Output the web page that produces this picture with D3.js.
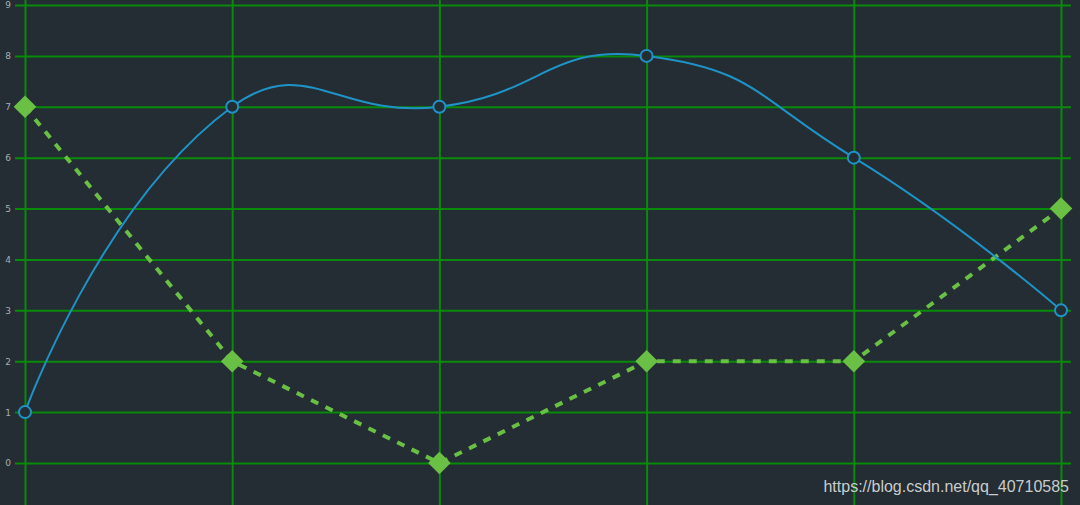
<!DOCTYPE html>
<html>
<head>
<meta charset="utf-8">
<script src="https://cdn.jsdelivr.net/npm/d3@7"></script>
<style>
  html, body { margin: 0; padding: 0; background: #232d33; overflow: hidden; }
  svg { display: block; }
</style>
</head>
<body>
<svg id="chart" width="1080" height="505"></svg>
<script>
const categories = ['A', 'B', 'C', 'D', 'E', 'F']
const lineValues = [1, 7, 7, 8, 6, 3]
const dashValues = [7, 2, 0, 2, 2, 5]
const yTicks = [0, 1, 2, 3, 4, 5, 6, 7, 8, 9]

const W = 1080, H = 505
const GRID = '#0a8a0a'
const BLUE = '#1f93c6'
const LIME = '#6abf45'
const BG = '#232d33'

const svg = d3.select('#chart')

const x = d3.scalePoint().domain(categories).range([25, 1061])
const y = d3.scaleLinear().domain([0, 9]).range([463, 5])

// horizontal grid + labels
const gy = svg.append('g').attr('transform', 'translate(15,0)')
  .call(d3.axisLeft(y).tickValues(yTicks).tickSizeInner(-(1071 - 15)).tickSizeOuter(0).tickPadding(4))
gy.select('.domain').remove()
gy.selectAll('line').attr('stroke', GRID).attr('stroke-width', 2)
gy.selectAll('text').attr('fill', '#a9adb0').attr('font-size', '9px').attr('font-family', 'DejaVu Sans, sans-serif')

// vertical grid
const gx = svg.append('g').attr('transform', 'translate(0,' + H + ')')
  .call(d3.axisBottom(x).tickSizeInner(-H).tickSizeOuter(0).tickFormat(''))
gx.select('.domain').remove()
gx.selectAll('line').attr('stroke', GRID).attr('stroke-width', 2)

// dashed series
const straight = d3.line().x(function (d, i) { return x(categories[i]) }).y(function (d) { return y(d) })
svg.append('path').datum(dashValues)
  .attr('fill', 'none').attr('stroke', LIME).attr('stroke-width', 4)
  .attr('stroke-dasharray', '8,8')
  .attr('d', straight)

// smooth series: control points weighted by neighbouring segment lengths
function smoothPath(vals, k) {
  var pts = vals.map(function (d, i) { return [x(categories[i]), y(d)] })
  var cps = pts.map(function (p, i) {
    if (i === 0 || i === pts.length - 1) return [p, p]
    var a = pts[i - 1], b = pts[i + 1]
    var vx = (b[0] - a[0]) * k, vy = (b[1] - a[1]) * k
    var l0 = Math.hypot(p[0] - a[0], p[1] - a[1]), l1 = Math.hypot(b[0] - p[0], b[1] - p[1])
    var r = l1 / (l0 + l1)
    return [[p[0] - vx * (1 - r), p[1] - vy * (1 - r)], [p[0] + vx * r, p[1] + vy * r]]
  })
  var pa = d3.path()
  pa.moveTo(pts[0][0], pts[0][1])
  for (var i = 1; i < pts.length; i++) {
    pa.bezierCurveTo(cps[i - 1][1][0], cps[i - 1][1][1], cps[i][0][0], cps[i][0][1], pts[i][0], pts[i][1])
  }
  return pa.toString()
}
svg.append('path')
  .attr('fill', 'none').attr('stroke', BLUE).attr('stroke-width', 2)
  .attr('d', smoothPath(lineValues, 0.5))

svg.append('g').selectAll('rect').data(dashValues).join('rect')
  .attr('x', -8).attr('y', -8).attr('width', 16).attr('height', 16)
  .attr('fill', LIME)
  .attr('transform', function (d, i) { return 'translate(' + x(categories[i]) + ',' + y(d) + ') rotate(45)' })

svg.append('g').selectAll('circle').data(lineValues).join('circle')
  .attr('cx', function (d, i) { return x(categories[i]) }).attr('cy', function (d) { return y(d) })
  .attr('r', 6).attr('fill', BG).attr('stroke', BLUE).attr('stroke-width', 2)

svg.append('text').attr('x', 1069).attr('y', 492).attr('text-anchor', 'end')
  .attr('fill', '#c9cccd').attr('font-size', '16px').attr('font-family', 'Liberation Sans, Arial, sans-serif')
  .text('https://blog.csdn.net/qq_40710585')
</script>
</body>
</html>
